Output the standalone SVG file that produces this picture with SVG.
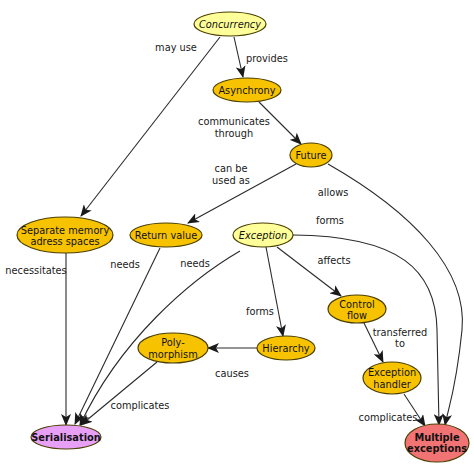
<svg xmlns="http://www.w3.org/2000/svg" width="474" height="474" viewBox="0 0 474 474">
<defs>
<style>
.n ellipse{stroke:#4a3f00;stroke-width:1.2}
.y1{fill:#ffff99}
.y2{fill:#f7c300}
.t{font-family:"DejaVu Sans",Verdana,sans-serif;font-size:9.8px;fill:#111;text-anchor:middle}
.i{font-style:italic}
.b{font-weight:bold}
.e path{fill:none;stroke:#2a2a2a;stroke-width:1.1;marker-end:url(#ah)}
.l{font-family:"DejaVu Sans",Verdana,sans-serif;font-size:9.8px;fill:#1a1a1a;text-anchor:middle}
</style>
<marker id="ah" viewBox="0 0 12 10" refX="11" refY="5" markerWidth="12" markerHeight="10" markerUnits="userSpaceOnUse" orient="auto">
<path d="M0,0 L12,5 L0,10 L3,5 z" fill="#1a1a1a"/>
</marker>
</defs>
<rect width="474" height="474" fill="#fff"/>
<g id="connectors" class="e">
<path d="M220,37 L81,216"/>
<path d="M234,37 L243,77"/>
<path d="M259,102 L301,144"/>
<path d="M296,164 L188,223"/>
<path d="M328,164 C412,212 468,270 462,330 S449,405 445,425"/>
<path d="M293,235 C400,236 436,270 437,330 L439,425"/>
<path d="M277,247 L341,296"/>
<path d="M266,247 L283,336"/>
<path d="M240,251 C190,280 120,340 80,425"/>
<path d="M160,248 L75,424"/>
<path d="M66,253 L66,425"/>
<path d="M257,348 L208,348"/>
<path d="M157,362 L81,425"/>
<path d="M364,323 L383,362"/>
<path d="M404,394 L425,426"/>
</g>
<g id="labels">
<text class="l" x="176" y="51">may use</text>
<text class="l" x="267" y="62">provides</text>
<text class="l" x="234" y="125">communicates</text>
<text class="l" x="234" y="137">through</text>
<text class="l" x="231" y="172">can be</text>
<text class="l" x="231" y="184">used as</text>
<text class="l" x="333" y="196">allows</text>
<text class="l" x="330" y="224">forms</text>
<text class="l" x="334" y="264">affects</text>
<text class="l" x="260" y="315">forms</text>
<text class="l" x="400" y="336">transferred</text>
<text class="l" x="400" y="347">to</text>
<text class="l" x="388" y="421">complicates</text>
<text class="l" x="36" y="274">necessitates</text>
<text class="l" x="125" y="268">needs</text>
<text class="l" x="195" y="267">needs</text>
<text class="l" x="232" y="377">causes</text>
<text class="l" x="140" y="409">complicates</text>
</g>
<g id="concurrency" class="n"><ellipse class="y1" cx="230" cy="24" rx="36" ry="12"/><text class="t i" x="230" y="27.5">Concurrency</text></g>
<g id="asynchrony" class="n"><ellipse class="y2" cx="247" cy="90" rx="34" ry="12"/><text class="t" x="247" y="93.5">Asynchrony</text></g>
<g id="future" class="n"><ellipse class="y2" cx="311" cy="155" rx="21" ry="12"/><text class="t" x="311" y="158.5">Future</text></g>
<g id="separate-memory" class="n"><ellipse class="y2" cx="65" cy="235" rx="48" ry="18"/><text class="t" x="65" y="233.5">Separate memory</text><text class="t" x="65" y="245">adress spaces</text></g>
<g id="return-value" class="n"><ellipse class="y2" cx="166" cy="235" rx="36" ry="12"/><text class="t" x="166" y="238.5">Return value</text></g>
<g id="exception" class="n"><ellipse class="y1" cx="263" cy="235" rx="30" ry="12"/><text class="t i" x="263" y="238.5">Exception</text></g>
<g id="control-flow" class="n"><ellipse class="y2" cx="357" cy="309" rx="29" ry="14"/><text class="t" x="357" y="307.5">Control</text><text class="t" x="357" y="318.5">flow</text></g>
<g id="hierarchy" class="n"><ellipse class="y2" cx="286" cy="348" rx="29" ry="12"/><text class="t" x="286" y="351.5">Hierarchy</text></g>
<g id="polymorphism" class="n"><ellipse class="y2" cx="173" cy="348" rx="35" ry="15"/><text class="t" x="173" y="346">Poly-</text><text class="t" x="173" y="357.5">morphism</text></g>
<g id="exception-handler" class="n"><ellipse class="y2" cx="392" cy="378" rx="29" ry="16"/><text class="t" x="392" y="375.5">Exception</text><text class="t" x="392" y="387.5">handler</text></g>
<g id="serialisation" class="n"><ellipse fill="#e8a0f7" cx="66" cy="437" rx="35" ry="12"/><text class="t b" x="66" y="440.5">Serialisation</text></g>
<g id="multiple-exceptions" class="n"><ellipse fill="#f27373" cx="437" cy="443" rx="32" ry="19"/><text class="t b" x="437" y="440.5">Multiple</text><text class="t b" x="437" y="452">exceptions</text></g>
</svg>
